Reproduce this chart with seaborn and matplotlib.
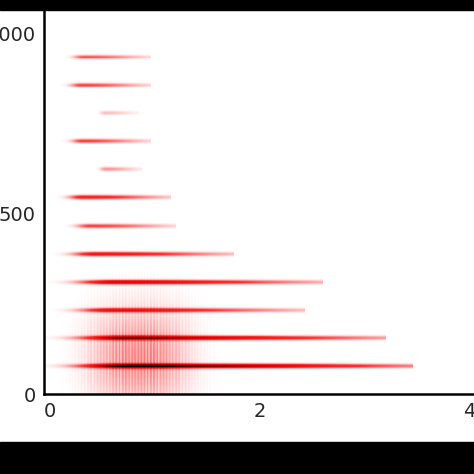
import numpy as np
import matplotlib
matplotlib.use("Agg")
import matplotlib.pyplot as plt
from matplotlib.colors import LinearSegmentedColormap
from matplotlib.patches import Rectangle
import seaborn as sns

# bands: level, x start, x end, peak strength
band_y = [78, 156, 233, 311, 389, 467, 547, 625, 703, 781, 858, 936]
band_x0 = [0.07, 0.08, 0.12, 0.10, 0.10, 0.17, 0.10, 0.44, 0.14, 0.44, 0.13, 0.16]
band_x1 = [3.46, 3.20, 2.43, 2.60, 1.75, 1.20, 1.15, 0.87, 0.96, 0.85, 0.96, 0.96]
band_peak = [1.35, 1.05, 0.70, 0.85, 0.70, 0.45, 0.60, 0.25, 0.45, 0.15, 0.45, 0.40]
# diffuse cloud under the lower bands
blob_x, blob_y, blob_sx, blob_sy, blob_peak = 0.85, 100, 0.45, 130, 0.32

sns.set_style("white")

xs = np.linspace(-0.06, 4.1, 700)
ys = np.linspace(0, 1072, 800)
X, Y = np.meshgrid(xs, ys)
Z = np.zeros_like(X)
for yv, x0, x1, pk in zip(band_y, band_x0, band_x1, band_peak):
    t = (X - x0) / (x1 - x0)
    prof = np.where(t < 0.2, np.exp(-((t - 0.2) / 0.12) ** 2), np.exp(-((t - 0.2) / 0.65) ** 2))
    prof = np.where((t >= -0.05) & (t <= 1.0), prof, 0)
    Z += pk * prof * np.exp(-((Y - yv) / 5.5) ** 2)
blob = blob_peak * np.exp(-np.abs((X - blob_x) / blob_sx) ** 2.5 - ((Y - blob_y) / blob_sy) ** 2)
stripes = 0.75 + 0.25 * np.cos(2 * np.pi * X / 0.03)
Z += blob * stripes * (Y < 370)

cmap = LinearSegmentedColormap.from_list("wr", ["#ffffff", "#ff3030", "#d00000", "#000000"])

fig = plt.figure(figsize=(4.74, 4.74), dpi=100)
ax = fig.add_axes([44 / 474, 80 / 474, 436 / 474, 386 / 474])
ax.pcolormesh(X, Y, Z, cmap=cmap, vmin=0, vmax=1.4, shading="auto")
ax.set_xlim(-0.06, 4.1)
ax.set_ylim(0, 1072)
ax.set_xticks([0, 2, 4])
ax.set_yticks([0, 500, 1000])
ax.set_yticklabels(["0", "500", "1000"])
ax.tick_params(labelsize=14, length=0, pad=6)
ax.spines[["top", "right"]].set_visible(False)
ax.spines[["left", "bottom"]].set_linewidth(1.8)
ax.spines[["left", "bottom"]].set_color("black")

fig.add_artist(Rectangle((0, 1 - 10 / 474), 1, 10 / 474, transform=fig.transFigure, color="black"))
fig.add_artist(Rectangle((0, 0), 1, 32 / 474, transform=fig.transFigure, color="black"))

fig.savefig("out.png", dpi=100)
